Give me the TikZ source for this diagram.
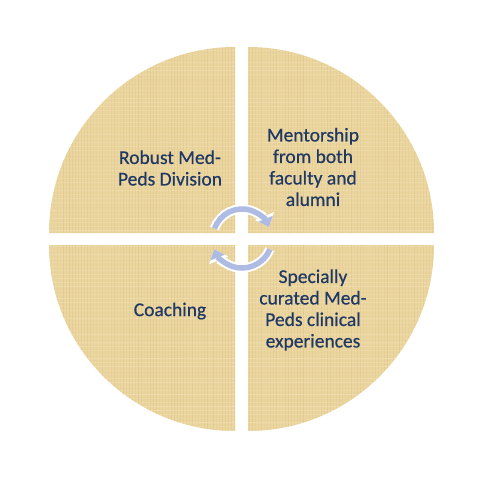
\documentclass[tikz,border=0pt]{standalone}
\usepackage{fontspec}
\setmainfont{Carlito}
\newfontfamily\labelfont{Carlito}[FakeBold=0.5]
\usetikzlibrary{arrows.meta}
\definecolor{papyrus}{HTML}{EBD59E}
\definecolor{reed}{HTML}{D6BA78}
\definecolor{pith}{HTML}{F6EACB}
\definecolor{navytext}{HTML}{1F3864}
\definecolor{cyclearrow}{HTML}{AEBBE2}
\tikzset{
	label text/.style={text=navytext,align=center,font=\labelfont\fontsize{19.5}{21.5}\selectfont},
	cycle arrow/.style={draw=cyclearrow,line width=5.5pt,-{Triangle[length=9pt,width=15pt]},
		preaction={draw=white,line width=9.5pt,-{Triangle[length=12pt,width=20pt]}}}
}

\begin{document}
\begin{tikzpicture}[x=1pt,y=-1pt]
					\useasboundingbox[fill=white] (0,0) rectangle (480,483);
					\def\quarters{(235,233) -- ++(-186,0) arc[start angle=180,end angle=270,radius=186] -- cycle
						(248,233) -- ++(0,-186) arc[start angle=270,end angle=360,radius=186] -- cycle
						(248,245) -- ++(186,0) arc[start angle=0,end angle=90,radius=186] -- cycle
						(235,245) -- ++(0,186) arc[start angle=90,end angle=180,radius=186] -- cycle}
					\fill[papyrus] \quarters;
					\begin{scope}
						\clip \quarters;
						\pgfmathsetseed{7}
						\foreach \i in {48,51,...,434}{
							\pgfmathsetmacro\op{0.1+0.3*rnd}
							\draw[reed,line width=0.8pt,opacity=\op] (\i,45) -- (\i,435);
						}
						\foreach \j in {46,50,...,434}{
							\pgfmathsetmacro\op{0.1+0.3*rnd}
							\draw[pith,line width=1pt,opacity=\op] (45,\j) -- (435,\j);
						}
					\end{scope}
					\node[label text] (robust) at (170,168) {Robust Med-\\Peds Division};
					\node[label text] (mentor) at (313,167) {Mentorship\\from both\\faculty and\\alumni};
					\node[label text] (coaching) at (170,311) {Coaching};
					\node[label text] (curated) at (313,310) {Specially\\curated Med-\\Peds clinical\\experiences};
					\coordinate (hub) at (242,238);
					\draw[cycle arrow] (hub) ++(199:29) arc[start angle=199,end angle=338,radius=29];
					\draw[cycle arrow] (hub) ++(22:30) arc[start angle=22,end angle=158,radius=30];
				\end{tikzpicture}
\end{document}
